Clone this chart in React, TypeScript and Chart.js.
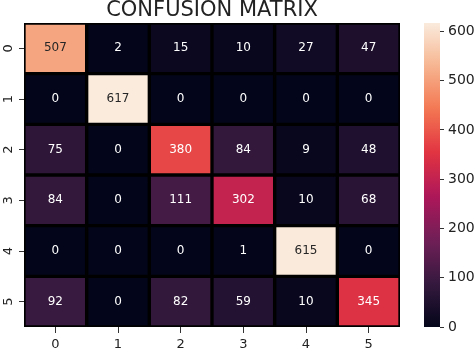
import React, { useEffect, useRef } from 'react';
import { Chart, registerables } from 'chart.js';

Chart.register(...registerables);

// ---------- data ----------
const colLabels = ['0', '1', '2', '3', '4', '5'];
const rowLabels = ['0', '1', '2', '3', '4', '5'];
const row0 = [507, 2, 15, 10, 27, 47];
const row1 = [0, 617, 0, 0, 0, 0];
const row2 = [75, 0, 380, 84, 9, 48];
const row3 = [84, 0, 111, 302, 10, 68];
const row4 = [0, 0, 0, 1, 615, 0];
const row5 = [92, 0, 82, 59, 10, 345];
const matrix = [row0, row1, row2, row3, row4, row5];
const cbTicks = [0, 100, 200, 300, 400, 500, 600];
const vmin = 0;
const vmax = 617;
const titleText = 'CONFUSION MATRIX';

// ---------- colormap (seaborn "rocket") ----------
const rocketStops: [number, number[]][] = [
  [0, [3, 5, 26]],
  [1 / 7, [53, 25, 62]],
  [2 / 7, [112, 31, 87]],
  [3 / 7, [173, 23, 89]],
  [4 / 7, [225, 51, 66]],
  [5 / 7, [243, 118, 81]],
  [6 / 7, [246, 180, 143]],
  [1, [250, 235, 221]],
];

function rocketRGB(t: number): number[] {
  const tt = Math.max(0, Math.min(1, t));
  for (let i = 1; i < rocketStops.length; i++) {
    const [p1, c1] = rocketStops[i];
    const [p0, c0] = rocketStops[i - 1];
    if (tt <= p1) {
      const f = (tt - p0) / (p1 - p0);
      return c0.map((c, k) => Math.round(c + (c1[k] - c) * f));
    }
  }
  return rocketStops[rocketStops.length - 1][1];
}
const rgbStr = (c: number[]) => `rgb(${c[0]},${c[1]},${c[2]})`;
const norm = (v: number) => (v - vmin) / (vmax - vmin);
const cellColor = (v: number) => rgbStr(rocketRGB(norm(v)));
function textColor(v: number) {
  const c = rocketRGB(norm(v)).map((x) => {
    const s = x / 255;
    return s <= 0.03928 ? s / 12.92 : Math.pow((s + 0.055) / 1.055, 2.4);
  });
  const lum = 0.2126 * c[0] + 0.7152 * c[1] + 0.0722 * c[2];
  return lum > 0.408 ? '#262626' : '#ffffff';
}

const FONT = '"DejaVu Sans", sans-serif';
const INK = '#222222';

const annotatePlugin = {
  id: 'annotate',
  afterDatasetsDraw(chart: any) {
    const ctx = chart.ctx;
    ctx.save();
    ctx.font = `12px ${FONT}`;
    ctx.textAlign = 'center';
    ctx.textBaseline = 'middle';
    matrix.forEach((row, r) => {
      const meta = chart.getDatasetMeta(r);
      row.forEach((v, c) => {
        const el = meta.data[c];
        const p = el.getProps(['x', 'y', 'base'], true);
        ctx.fillStyle = textColor(v);
        ctx.fillText(String(v), p.x, (p.y + p.base) / 2);
      });
    });
    ctx.restore();
  },
};

const colorbarPlugin = {
  id: 'colorbar',
  afterDraw(chart: any) {
    const cb = chart.scales.cb;
    const ctx = chart.ctx;
    const top = cb.getPixelForValue(vmax);
    const bottom = cb.getPixelForValue(vmin);
    const right = cb.left;
    const left = right - 16;
    const g = ctx.createLinearGradient(0, bottom, 0, top);
    const n = 40;
    for (let i = 0; i <= n; i++) g.addColorStop(i / n, rgbStr(rocketRGB(i / n)));
    ctx.save();
    ctx.fillStyle = g;
    ctx.fillRect(left, top, right - left, bottom - top);
    ctx.restore();
  },
};

export default function App() {
  const ref = useRef<HTMLCanvasElement>(null);
  useEffect(() => {
    document.body.style.margin = '0';
    const canvas = ref.current!;
    const datasets = matrix.map((row, r) => ({
      label: 'row ' + rowLabels[r],
      data: row.map(() => [r, r + 1]),
      backgroundColor: row.map(cellColor),
      borderColor: '#000000',
      borderWidth: 2,
      borderSkipped: false,
      barPercentage: 1,
      categoryPercentage: 1,
      grouped: false,
    }));
    const chart = new Chart(canvas, {
      type: 'bar',
      data: { labels: colLabels, datasets: datasets as any },
      plugins: [annotatePlugin, colorbarPlugin],
      options: {
        animation: false,
        responsive: false,
        layout: { padding: 0 },
        plugins: {
          legend: { display: false },
          tooltip: { enabled: false },
          title: {
            display: true,
            text: titleText,
            fullSize: false,
            color: INK,
            font: { family: FONT, size: 21, weight: 'normal', lineHeight: 1 },
            padding: { top: 0, bottom: 2 },
          },
        },
        scales: {
          x: {
            type: 'category',
            position: 'bottom',
            offset: true,
            grid: { offset: false, drawOnChartArea: false, tickLength: 6, tickColor: '#333333' },
            border: { display: false },
            ticks: { padding: 4, color: INK, font: { family: FONT, size: 13 }, maxRotation: 0, autoSkip: false },
            afterFit: (s: any) => { s.height = 24; },
          },
          y: {
            type: 'linear',
            position: 'left',
            min: 0,
            max: rowLabels.length,
            reverse: true,
            afterBuildTicks: (s: any) => { s.ticks = rowLabels.map((_, i) => ({ value: i + 0.5 })); },
            afterFit: (s: any) => { s.width = 24; },
            grid: { drawOnChartArea: false, tickLength: 5, tickColor: '#333333' },
            border: { display: false },
            ticks: {
              callback: (_v: any, i: number) => rowLabels[i],
              minRotation: 90,
              maxRotation: 90,
              crossAlign: 'center',
              padding: 6,
              color: INK,
              font: { family: FONT, size: 13 },
              autoSkip: false,
            },
          },
          gap: {
            type: 'linear',
            position: 'right',
            weight: 0,
            min: 0,
            max: 1,
            grid: { display: false },
            ticks: { display: false },
            border: { display: false },
            afterFit: (s: any) => { s.width = 40; },
          },
          cb: {
            type: 'linear',
            position: 'right',
            weight: 1,
            min: vmin,
            max: vmax,
            afterBuildTicks: (s: any) => { s.ticks = cbTicks.map((v) => ({ value: v })); },
            afterFit: (s: any) => { s.width = 34; },
            grid: { drawOnChartArea: false, tickLength: 4, tickColor: '#333333' },
            border: { display: false },
            ticks: { padding: 4, color: INK, font: { family: FONT, size: 14 }, callback: (v: any) => String(v) },
          },
        },
      } as any,
    });
    return () => chart.destroy();
  }, []);
  return <canvas ref={ref} width={474} height={351} style={{ display: 'block' }} />;
}
